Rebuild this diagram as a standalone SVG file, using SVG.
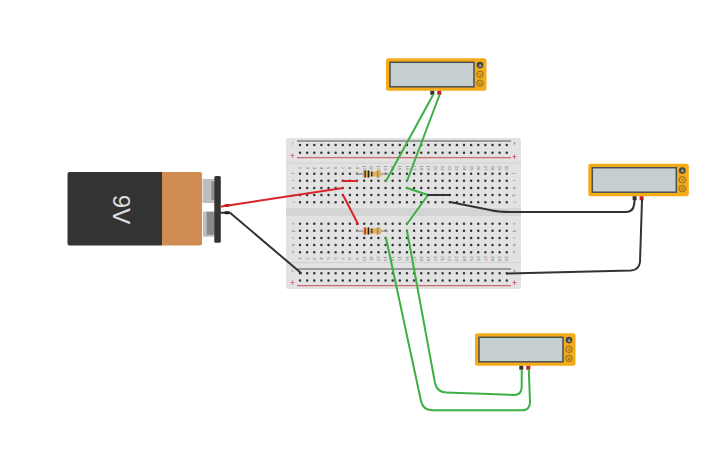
<svg xmlns="http://www.w3.org/2000/svg" width="725" height="453" viewBox="0 0 725 453">
<style>
.lbl{font-family:"Liberation Sans",Arial,sans-serif;font-size:4.4px;fill:#777;text-anchor:middle}
.sym{font-family:"Liberation Sans",Arial,sans-serif;font-size:9px;text-anchor:middle}
.w{fill:none;stroke-width:2;stroke-linecap:round;stroke-linejoin:round}
.g{stroke:#3cb043}.r{stroke:#d9252a}.k{stroke:#333}
.case{fill:#f4ab1a}.scr{fill:#c5cfd0;stroke:#4a5152;stroke-width:1.5}
.btn{fill:#f0a818;stroke:#5a5030;stroke-width:.7}
.bt{font-family:"Liberation Sans",Arial,sans-serif;font-size:4px;fill:#5a5030;text-anchor:middle}
.dots{fill:none;stroke:#333;stroke-width:2.5;stroke-linecap:round;stroke-dasharray:0 7.13}
</style>
<defs>
<g id="meter"><rect x="0" y="0" width="100.500" height="32.500" rx="2.500" class="case"/><rect x="4" y="4" width="84" height="24.500" class="scr"/><circle cx="94" cy="6.800" r="3.300" fill="#444"/><circle cx="94" cy="16" r="3.200" class="btn"/><circle cx="94" cy="25" r="3.200" class="btn"/><text class="bt" x="94" y="8.300" style="fill:#ccc">A</text><text class="bt" x="94" y="17.500">V</text><text class="bt" x="94" y="26.500">Ω</text><rect x="44.300" y="32.500" width="4" height="4" fill="#333"/><rect x="51.300" y="32.500" width="4" height="4" fill="#c8201f"/></g>
<g id="res"><path d="M-8 0H-1M18 0H24" stroke="#9a9a9a" stroke-width="1.600"/><path d="M-1-3.500H5L6.500-2.500H11.500L13-3.500H16L18.500 0L16 3.500H13L11.500 2.500H6.500L5 3.500H-1Z" fill="#d9b26a"/></g>
</defs>
<g id="breadboard">
<rect x="286" y="138" width="235" height="151" rx="2" fill="#e2e2e2"/>
<rect x="286" y="162.500" width="235" height="1" fill="#d2d2d2"/>
<rect x="286" y="208" width="235" height="8" fill="#d4d4d4"/>
<rect x="286" y="262" width="235" height="1" fill="#d2d2d2"/>
<path d="M297 141H511" stroke="#555" stroke-width="1"/>
<path d="M297 157.700H511" stroke="#c0504d" stroke-width="1"/>
<path d="M297 269H511" stroke="#555" stroke-width="1"/>
<path d="M297 285.700H511" stroke="#c0504d" stroke-width="1"/>
<path class="dots" d="M300 145H507M300 152.700H507M300 173.700H507M300 180.800H507M300 188H507M300 195.100H507M300 202.200H507M300 223.700H507M300 230.800H507M300 238H507M300 245.100H507M300 252.200H507M300 273.300H507M300 280.500H507"/>
<g class="lbl">
<text transform="translate(300 168) rotate(90)" y="1.500">1</text><text transform="translate(307.100 168) rotate(90)" y="1.500">2</text><text transform="translate(314.300 168) rotate(90)" y="1.500">3</text><text transform="translate(321.400 168) rotate(90)" y="1.500">4</text><text transform="translate(328.500 168) rotate(90)" y="1.500">5</text><text transform="translate(335.700 168) rotate(90)" y="1.500">6</text><text transform="translate(342.800 168) rotate(90)" y="1.500">7</text><text transform="translate(349.900 168) rotate(90)" y="1.500">8</text><text transform="translate(357 168) rotate(90)" y="1.500">9</text><text transform="translate(364.200 168) rotate(90)" y="1.500">10</text><text transform="translate(371.300 168) rotate(90)" y="1.500">11</text><text transform="translate(378.400 168) rotate(90)" y="1.500">12</text><text transform="translate(385.600 168) rotate(90)" y="1.500">13</text><text transform="translate(392.700 168) rotate(90)" y="1.500">14</text><text transform="translate(399.800 168) rotate(90)" y="1.500">15</text><text transform="translate(407 168) rotate(90)" y="1.500">16</text><text transform="translate(414.100 168) rotate(90)" y="1.500">17</text><text transform="translate(421.200 168) rotate(90)" y="1.500">18</text><text transform="translate(428.300 168) rotate(90)" y="1.500">19</text><text transform="translate(435.500 168) rotate(90)" y="1.500">20</text><text transform="translate(442.600 168) rotate(90)" y="1.500">21</text><text transform="translate(449.700 168) rotate(90)" y="1.500">22</text><text transform="translate(456.900 168) rotate(90)" y="1.500">23</text><text transform="translate(464 168) rotate(90)" y="1.500">24</text><text transform="translate(471.100 168) rotate(90)" y="1.500">25</text><text transform="translate(478.300 168) rotate(90)" y="1.500">26</text><text transform="translate(485.400 168) rotate(90)" y="1.500">27</text><text transform="translate(492.500 168) rotate(90)" y="1.500">28</text><text transform="translate(499.600 168) rotate(90)" y="1.500">29</text><text transform="translate(506.800 168) rotate(90)" y="1.500">30</text>
<text transform="translate(300 258.500) rotate(90)" y="1.500">1</text><text transform="translate(307.100 258.500) rotate(90)" y="1.500">2</text><text transform="translate(314.300 258.500) rotate(90)" y="1.500">3</text><text transform="translate(321.400 258.500) rotate(90)" y="1.500">4</text><text transform="translate(328.500 258.500) rotate(90)" y="1.500">5</text><text transform="translate(335.700 258.500) rotate(90)" y="1.500">6</text><text transform="translate(342.800 258.500) rotate(90)" y="1.500">7</text><text transform="translate(349.900 258.500) rotate(90)" y="1.500">8</text><text transform="translate(357 258.500) rotate(90)" y="1.500">9</text><text transform="translate(364.200 258.500) rotate(90)" y="1.500">10</text><text transform="translate(371.300 258.500) rotate(90)" y="1.500">11</text><text transform="translate(378.400 258.500) rotate(90)" y="1.500">12</text><text transform="translate(385.600 258.500) rotate(90)" y="1.500">13</text><text transform="translate(392.700 258.500) rotate(90)" y="1.500">14</text><text transform="translate(399.800 258.500) rotate(90)" y="1.500">15</text><text transform="translate(407 258.500) rotate(90)" y="1.500">16</text><text transform="translate(414.100 258.500) rotate(90)" y="1.500">17</text><text transform="translate(421.200 258.500) rotate(90)" y="1.500">18</text><text transform="translate(428.300 258.500) rotate(90)" y="1.500">19</text><text transform="translate(435.500 258.500) rotate(90)" y="1.500">20</text><text transform="translate(442.600 258.500) rotate(90)" y="1.500">21</text><text transform="translate(449.700 258.500) rotate(90)" y="1.500">22</text><text transform="translate(456.900 258.500) rotate(90)" y="1.500">23</text><text transform="translate(464 258.500) rotate(90)" y="1.500">24</text><text transform="translate(471.100 258.500) rotate(90)" y="1.500">25</text><text transform="translate(478.300 258.500) rotate(90)" y="1.500">26</text><text transform="translate(485.400 258.500) rotate(90)" y="1.500">27</text><text transform="translate(492.500 258.500) rotate(90)" y="1.500">28</text><text transform="translate(499.600 258.500) rotate(90)" y="1.500">29</text><text transform="translate(506.800 258.500) rotate(90)" y="1.500">30</text>
<text transform="translate(293 173.700) rotate(90)" y="1.500">j</text><text transform="translate(293 180.800) rotate(90)" y="1.500">i</text><text transform="translate(293 188) rotate(90)" y="1.500">h</text><text transform="translate(293 195.100) rotate(90)" y="1.500">g</text><text transform="translate(293 202.200) rotate(90)" y="1.500">f</text>
<text transform="translate(514 173.700) rotate(90)" y="1.500">j</text><text transform="translate(514 180.800) rotate(90)" y="1.500">i</text><text transform="translate(514 188) rotate(90)" y="1.500">h</text><text transform="translate(514 195.100) rotate(90)" y="1.500">g</text><text transform="translate(514 202.200) rotate(90)" y="1.500">f</text>
<text transform="translate(293 223.700) rotate(90)" y="1.500">e</text><text transform="translate(293 230.800) rotate(90)" y="1.500">d</text><text transform="translate(293 238) rotate(90)" y="1.500">c</text><text transform="translate(293 245.100) rotate(90)" y="1.500">b</text><text transform="translate(293 252.200) rotate(90)" y="1.500">a</text>
<text transform="translate(514 223.700) rotate(90)" y="1.500">e</text><text transform="translate(514 230.800) rotate(90)" y="1.500">d</text><text transform="translate(514 238) rotate(90)" y="1.500">c</text><text transform="translate(514 245.100) rotate(90)" y="1.500">b</text><text transform="translate(514 252.200) rotate(90)" y="1.500">a</text>
</g>
<text class="sym" transform="translate(292 143.500) rotate(90)" y="2.500" fill="#888">-</text><text class="sym" x="292.300" y="159" fill="#c0504d">+</text>
<text class="sym" transform="translate(514.500 143.500) rotate(90)" y="2.500" fill="#555">-</text><text class="sym" x="514.500" y="159.500" fill="#c0302d">+</text>
<text class="sym" transform="translate(292 271) rotate(90)" y="2.500" fill="#888">-</text><text class="sym" x="292.300" y="286" fill="#c0504d">+</text>
<text class="sym" transform="translate(514.500 271) rotate(90)" y="2.500" fill="#555">-</text><text class="sym" x="514.500" y="286" fill="#c0302d">+</text>
</g>
<g id="battery">
<rect x="67.500" y="172" width="96" height="73.500" rx="2" fill="#333"/>
<path d="M162 172H200a2 2 0 0 1 2 2V243.500a2 2 0 0 1 -2 2H162Z" fill="#d08c52"/>
<rect x="202.500" y="179" width="12" height="24" fill="#bdbdbd"/><rect x="211.500" y="181.500" width="3" height="18.500" fill="#8a8a8a"/>
<rect x="203" y="211.700" width="11.500" height="25" fill="#bdbdbd"/><rect x="206.700" y="211.700" width="8" height="23" fill="#8a8a8a"/>
<rect x="214.300" y="176" width="6.500" height="66.700" rx="1.500" fill="#333"/>
<text transform="translate(113 209.500) rotate(90)" font-family="Liberation Sans,Arial,sans-serif" font-size="24" fill="#ddd" text-anchor="middle">9V</text>
</g>
<g id="resistor1" transform="translate(364 174)"><use href="#res"/><rect x="0.300" y="-3.500" width="1.600" height="7" fill="#5a3a1a"/><rect x="3.700" y="-3.500" width="1.500" height="7" fill="#222"/><rect x="7" y="-2.500" width="1.500" height="5" fill="#333"/><rect x="13" y="-3.500" width="1.300" height="7" fill="#b8860b"/></g>
<g id="resistor2" transform="translate(364 231)"><use href="#res"/><rect x="0.300" y="-3.500" width="1.600" height="7" fill="#d9252a"/><rect x="3.700" y="-3.500" width="1.500" height="7" fill="#222"/><rect x="7" y="-2.500" width="1.500" height="5" fill="#7a3020"/><rect x="13" y="-3.500" width="1.300" height="7" fill="#b8860b"/></g>
<g id="meter-top" transform="translate(386 58.300)"><use href="#meter"/></g>
<g id="meter-right" transform="translate(588.300 163.700)"><use href="#meter"/></g>
<g id="meter-bottom" transform="translate(475 333.300)"><use href="#meter"/></g>
<g id="connectors">
<path class="w r" d="M221.500 206.500L343 188"/><path class="w r" d="M343 181H357"/><path class="w r" d="M343 195L358 224"/>
<path class="w k" d="M221 212.700H230L301 273"/>
<path class="w g" d="M386 181L433 95"/><path class="w g" d="M407 181L439.500 95"/>
<path class="w g" d="M407 188L428 195L407 224"/>
<path class="w k" d="M428 195H450"/>
<path class="w k" d="M450 202L490 210Q498 212 510 212H626Q633 212 634 205L634.700 200"/>
<path class="w k" d="M507 273.500L631 270.500Q639 270 640 262L642 200"/>
<path class="w g" d="M386 238L421 401Q423 410 432 410.200H522Q530 410.500 530 402L528.800 370"/>
<path class="w g" d="M407 231L435 383Q437 392 446 392.500L514 395Q521.500 395 521.700 387V370"/>
<rect x="224.500" y="204" width="5" height="3" rx="1" fill="#c8201f"/><rect x="224.500" y="211.200" width="5" height="3" rx="1" fill="#222"/>
</g>
</svg>
